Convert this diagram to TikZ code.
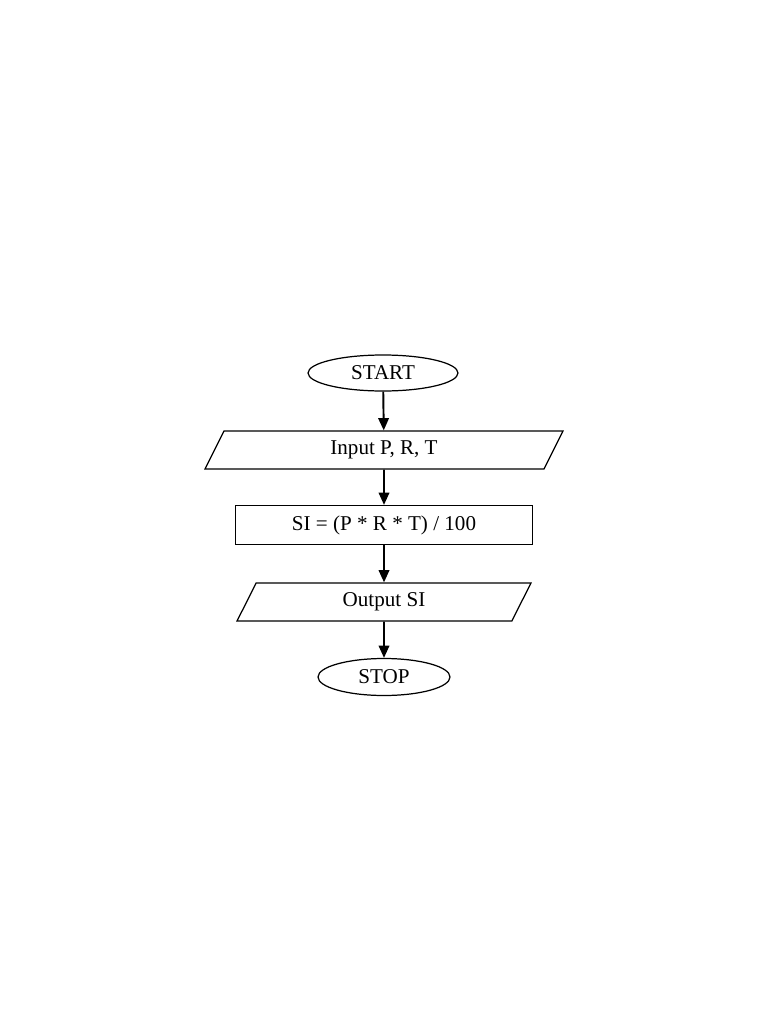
\documentclass[tikz,border=0pt]{standalone}
\usepackage{fontspec}
\setmainfont{Liberation Serif}
\usetikzlibrary{shapes.geometric,arrows.meta}
\tikzset{
  term/.style={ellipse,draw,line width=0.7pt,inner sep=0pt},
  io/.style={trapezium,draw,line width=0.7pt,trapezium left angle=44,trapezium right angle=136,
    trapezium stretches body,minimum height=0.76cm,inner sep=0pt},
  proc/.style={rectangle,draw,line width=0.7pt,minimum height=0.78cm,minimum width=5.94cm},
  flow/.style={-{Triangle[length=7pt,width=6pt]},line width=1.1pt}
}
\begin{document}
\begin{tikzpicture}[x=0.02cm,y=-0.02cm,font=\fontsize{12}{14}\selectfont]
  \useasboundingbox (0,0) rectangle (768,1024);
  \node [term,minimum width=3cm,minimum height=0.72cm] (start) at (383,373) {START};
  \node [io,minimum width=7.16cm] (input) at (384,450) {Input P, R, T};
  \node [proc] (calc) at (384,525) {SI = (P * R * T) / 100};
  \node [io,minimum width=5.88cm] (output) at (384,602) {Output SI};
  \node [term,minimum width=2.64cm,minimum height=0.74cm] (stop) at (384,677) {STOP};
  \draw [flow] (start) -- (input);
  \draw [flow] (input) -- (calc);
  \draw [flow] (calc) -- (output);
  \draw [flow] (output) -- (stop);
\end{tikzpicture}
\end{document}
